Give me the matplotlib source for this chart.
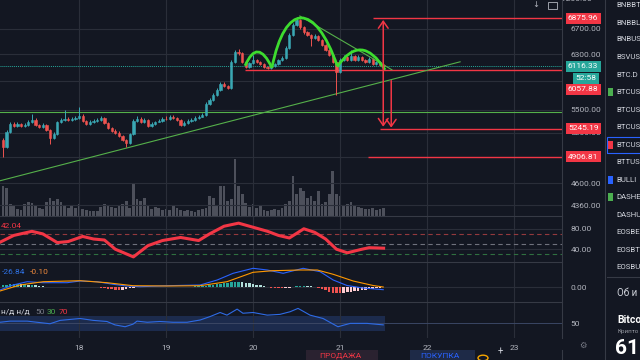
import matplotlib
matplotlib.use("Agg")
import matplotlib.pyplot as plt
from matplotlib.patches import PathPatch, Rectangle
from matplotlib.path import Path
from matplotlib.lines import Line2D
from matplotlib.ticker import NullLocator, NullFormatter
import numpy as np

plt.rcParams['font.family'] = ['Roboto', 'DejaVu Sans']

# ---------------- data ----------------
# hourly candles, x = hours since 18 Mar 00:00
hours = list(range(-21, 85))
first_open = 5117
closes = [5031, 5217, 5319, 5293, 5319, 5293, 5306, 5345, 5371, 5306,
          5280, 5306, 5242, 5142, 5192, 5345, 5371, 5384, 5371, 5384,
          5398, 5424, 5358, 5319, 5345, 5358, 5371, 5398, 5332, 5268,
          5229, 5204, 5167, 5117, 5080, 5192, 5358, 5384, 5345, 5371,
          5293, 5319, 5345, 5358, 5384, 5380, 5411, 5398, 5371, 5306,
          5332, 5358, 5371, 5398, 5411, 5437, 5584, 5638, 5707, 5776,
          5860, 5833, 5805, 6182, 6333, 6318, 6182, 6107, 6167, 6212,
          6182, 6152, 6107, 6093, 6122, 6152, 6212, 6242, 6395, 6600,
          6761, 6844, 6729, 6647, 6600, 6552, 6584, 6520, 6442, 6364,
          6287, 6182, 6034, 6212, 6257, 6212, 6272, 6212, 6257, 6212,
          6182, 6227, 6152, 6182, 6137, 6116.33]
highs = [5140, 5240, 5345, 5340, 5335, 5330, 5325, 5370, 5450, 5390,
         5320, 5325, 5315, 5255, 5210, 5360, 5390, 5503, 5400, 5405,
         5420, 5543, 5440, 5370, 5365, 5380, 5395, 5420, 5410, 5345,
         5280, 5245, 5220, 5180, 5130, 5205, 5380, 5420, 5400, 5395,
         5385, 5335, 5360, 5375, 5400, 5420, 5430, 5430, 5410, 5385,
         5350, 5375, 5390, 5415, 5430, 5460, 5600, 5660, 5730, 5800,
         5885, 5880, 5850, 6210, 6360, 6380, 6335, 6195, 6185, 6287,
         6230, 6200, 6165, 6125, 6140, 6170, 6230, 6265, 6420, 6630,
         6790, 6893, 6860, 6745, 6670, 6615, 6610, 6600, 6535, 6460,
         6380, 6300, 6200, 6240, 6285, 6275, 6364, 6290, 6280, 6275,
         6230, 6250, 6240, 6200, 6195, 6150]
lows = [4910, 5010, 5200, 5280, 5280, 5275, 5280, 5295, 5330, 5290,
        5260, 5265, 5225, 5068, 5120, 5180, 5330, 5355, 5350, 5355,
        5370, 5385, 5340, 5300, 5305, 5330, 5345, 5360, 5315, 5250,
        5210, 5185, 5150, 5095, 5031, 5065, 5180, 5345, 5325, 5330,
        5275, 5280, 5305, 5335, 5345, 5365, 5365, 5380, 5355, 5290,
        5295, 5320, 5345, 5360, 5385, 5400, 5425, 5570, 5620, 5690,
        5760, 5810, 5780, 5790, 6160, 6290, 6160, 6085, 6095, 6150,
        6165, 6135, 6090, 6070, 6080, 6110, 6140, 6200, 6230, 6380,
        6585, 6745, 6700, 6620, 6575, 6426, 6535, 6495, 6420, 6340,
        6265, 6160, 5707, 6015, 6195, 6190, 6195, 6190, 6195, 6190,
        6160, 6165, 6130, 6135, 6115, 6095]
volumes = [30, 28, 12, 10, 7, 6, 12, 14, 13, 10,
           8, 7, 14, 18, 15, 17, 14, 10, 8, 10,
           8, 12, 7, 6, 5, 5, 5, 9, 12, 11,
           9, 8, 10, 12, 15, 8, 33, 17, 15, 18,
           10, 7, 9, 8, 6, 7, 6, 10, 8, 6,
           5, 6, 5, 4, 6, 7, 8, 20, 18, 10,
           30, 30, 15, 17, 57, 30, 22, 13, 9, 12,
           8, 10, 6, 5, 6, 7, 6, 8, 12, 15,
           40, 22, 28, 25, 18, 20, 15, 25, 12, 14,
           22, 45, 22, 20, 11, 12, 14, 10, 9, 8,
           7, 7, 8, 6, 7, 8]

day_hours = [0, 24, 48, 72, 96, 120]
day_labels = ['18', '19', '20', '21', '22', '23']
# 4900 and 5900 sit behind price tags, so they get grid lines only
price_ticks = [4360, 4600, 4900, 5200, 5500, 5900, 6300, 6700]
hidden_ticks = [4900, 5900]

# red oscillator
red_hours = [-22, -18, -13, -10, -6, -3, 1, 4, 7, 10, 15, 19, 23, 28, 33,
             36, 40, 44, 48, 52, 55, 58, 62, 65, 68, 71, 74, 78, 80, 84]
red_vals = [53, 67, 75, 70, 53, 55, 65, 60, 58, 40, 25, 47, 57, 63, 57,
            70, 85, 91, 83, 75, 67, 62, 80, 73, 60, 40, 33, 40, 43, 42.04]

# MACD
macd_hours = [-21.8, -18.2, -14.3, -9.9, -3.3, 0.3, 5.0, 9.4, 13.2, 16.8, 24.3, 33.4,
              38.1, 42.5, 48.0, 51.9, 56.3, 61.8, 66.5, 70.1, 73.9, 78.3, 83.9]
macd_vals = [-30, 20, 53, 43, 43, 60, 53, 27, 10, 3, 13, 20,
             70, 137, 187, 170, 137, 187, 153, 70, 15, -10, -26.84]
signal_hours = [-21.8, -16.3, -9.9, 0.3, 7.7, 14.9, 24.3, 33.4, 40.8, 48.0, 53.5,
                61.0, 65.7, 70.1, 75.6, 81.1, 83.9]
signal_vals = [-40, 20, 53, 63, 43, 13, 10, 13, 53, 147, 163,
               170, 170, 127, 60, 15, -0.10]
hist = [20, 25, 30, 35, 35, 30, 30, 25, 25, 20, 15, 10,
        5, 5, 3, 2, 3, 5, 5, 3, 2,
        3, 2, 0, -2, -3, -3, -5, -8,
        -15, -20, -25, -30, -25, -20, -10,
        -5, -3, 0, 2, 3,
        3, 3, 2, 3, 5, 3, 2, 3, 2, 3, 5, 5, 8, 10, 12,
        15, 20, 25, 30, 35, 40, 45, 50, 55, 55,
        50, 45, 40, 30, 25, 20, 10,
        0, -5, -8, -10, -10, -8, -5, 0,
        10, 15, 15, 12, 10, 5,
        -5, -15, -30, -45, -55, -60, -60, -55, -50, -45, -40, -35, -30, -25,
        -20, -15, -10, -5, -3]

# blue RSI-like line
blue_hours = [-21.8, -19.0, -14.3, -11.6, -8.0, -5.2, 0.3, 3.9, 7.7, 9.9, 12.7, 14.9,
              16.0, 18.8, 22.3, 25.9, 29.8, 33.4, 36.1, 38.9, 40.8, 43.6, 45.2, 48.0,
              51.9, 55.4, 58.2, 60.4, 63.7, 67.3, 70.1, 71.4, 74.8, 79.4, 83.9]
blue_vals = [52, 55, 55, 52, 48, 57, 62, 57, 54, 45, 40, 47,
             55, 52, 54, 52, 52, 58, 67, 78, 71, 87, 76, 78,
             71, 73, 80, 89, 71, 62, 47, 40, 49, 49, 45]

# drawings (hour, price)
left_shoulder = [(45.8, 6122), (49.2, 6567), (53.2, 6093)]
head = [(53.2, 6093), (56.8, 7155), (65.1, 7155), (71.2, 6122)]
right_shoulder = [(71.2, 6107), (77.8, 6655), (84.4, 6063)]
desc_line = [(60.9, 6910), (86.3, 6063)]
asc_line = [(-21.8, 4630), (105.1, 6182)]
support_level = 5470
neckline = 6057.88
target_levels = [(81.1, 6875.96), (83.0, 5245.19), (79.7, 4906.81)]
last_price = 6116.33

watchlist = ['BNBBT', 'BNBBL', 'BNBUS', 'BSVUS', 'BTC.D', 'BTCUS', 'BTCUS', 'BTCUS',
             'BTCUS', 'BTTUS', 'BULLI', 'DASHE', 'DASHU', 'EOSBE', 'EOSBT', 'EOSBU']
watch_y = [5, 23, 39, 57, 75, 92, 110, 127, 145, 162, 180, 197, 215, 232, 250, 267]
flags = {5: '#4caf50', 8: '#f23645', 10: '#2962ff', 11: '#4caf50'}

# ---------------- style ----------------
BG = '#131722'
GRID = '#2a2e39'
SEP = '#363a45'
TXT = '#b2b5be'
UP = '#3aa8b4'
DOWN = '#ef5350'
RED = '#f23645'
GREEN = '#3ddc2f'
THIN_GREEN = '#55b04a'

W, H = 640.0, 360.0
x_left, x_right = -21.8, 133.2


def px_rect(x0, y0, x1, y1):
    return [x0 / W, 1 - y1 / H, (x1 - x0) / W, (y1 - y0) / H]


def style(a, top=True):
    a.set_facecolor(BG)
    a.spines['left'].set_visible(False)
    a.spines['bottom'].set_visible(False)
    a.spines['top'].set_visible(top)
    a.spines['top'].set_color(SEP)
    a.spines['right'].set_color(SEP)
    a.yaxis.tick_right()
    a.tick_params(length=0, labelsize=6, labelcolor=TXT, pad=6)
    a.set_xticks(day_hours)
    a.tick_params(axis='x', labelbottom=False)
    a.grid(axis='x', color=GRID, lw=0.8)
    a.set_xlim(x_left, x_right)


fig = plt.figure(figsize=(6.4, 3.6), dpi=100, facecolor=BG)

# volume underneath the price pane
ax_vol = fig.add_axes(px_rect(0, 0, 562, 216))
ax_vol.set_facecolor(BG)
for s in ax_vol.spines.values():
    s.set_visible(False)
ax_vol.set_xticks([])
ax_vol.set_yticks([])
ax_vol.set_xlim(x_left, x_right)
ax_vol.set_ylim(0, 216)
ax_vol.bar(hours, volumes, width=0.75, color='#4d505b', zorder=2)

ax = fig.add_axes(px_rect(0, 0, 562, 216))
style(ax, top=False)
ax.set_facecolor('none')
ax.set_yscale('log')
ax.set_ylim(4250, 7184)
ax.set_yticks(price_ticks)
ax.set_yticklabels(['' if v in hidden_ticks else f'{v:.2f}' for v in price_ticks])
ax.yaxis.set_minor_locator(NullLocator())
ax.yaxis.set_minor_formatter(NullFormatter())
ax.grid(axis='y', color=GRID, lw=0.8)
ax.text(1.0, 7200, '7200.00', transform=ax.get_yaxis_transform(), color=TXT,
        fontsize=6, va='center', ha='left', clip_on=False)

# candles
opens = [first_open] + closes[:-1]
o = np.array(opens)
c = np.array(closes)
cols = [UP if cc >= oo else DOWN for oo, cc in zip(opens, closes)]
ax.vlines(hours, lows, highs, colors=cols, lw=0.7, zorder=3)
ax.bar(hours, np.abs(c - o), bottom=np.minimum(o, c), width=0.62,
       color=cols, edgecolor=cols, lw=0.4, zorder=4)

# levels and drawings
ax.axhline(last_price, color='#26a69a', lw=0.7, ls=(0, (1, 1)), zorder=2)
ax.axhline(support_level, color=THIN_GREEN, lw=0.8, zorder=2)
ax.hlines(neckline, left_shoulder[0][0], x_right, color=RED, lw=1, zorder=2)
for h0, lvl in target_levels:
    ax.hlines(lvl, h0, x_right, color=RED, lw=1, zorder=2)
ax.plot(*zip(*asc_line), color=THIN_GREEN, lw=0.8, zorder=2)
ax.plot(*zip(*desc_line), color=THIN_GREEN, lw=0.8, zorder=5)

ax.add_patch(PathPatch(Path(left_shoulder, [Path.MOVETO, Path.CURVE3, Path.CURVE3]),
                       fill=False, ec=GREEN, lw=2, zorder=6))
ax.add_patch(PathPatch(Path(head, [Path.MOVETO, Path.CURVE4, Path.CURVE4, Path.CURVE4]),
                       fill=False, ec=GREEN, lw=2, zorder=6))
ax.add_patch(PathPatch(Path(right_shoulder, [Path.MOVETO, Path.CURVE3, Path.CURVE3]),
                       fill=False, ec=GREEN, lw=2, zorder=6))

ax.annotate('', xy=(83.9, 6844), xytext=(83.9, 5280),
            arrowprops=dict(arrowstyle='<->,head_length=0.5,head_width=0.35',
                            color=RED, lw=1.1, shrinkA=0, shrinkB=0), zorder=7)
ax.annotate('', xy=(86.1, 5268), xytext=(86.1, 5905),
            arrowprops=dict(arrowstyle='->,head_length=0.5,head_width=0.35',
                            color=RED, lw=1.1, shrinkA=0, shrinkB=0), zorder=7)


def tag(price, text, fc, dx=6, dy=0):
    ax.annotate(text, xy=(1, price), xycoords=('axes fraction', 'data'),
                xytext=(dx, dy), textcoords='offset pixels', color='white',
                fontsize=6, va='center', ha='left', zorder=20,
                annotation_clip=False,
                bbox=dict(boxstyle='square,pad=0.3', fc=fc, ec='none'))


tag(6875.96, '6875.96', RED)
tag(last_price, '6116.33', '#26a69a')
tag(last_price, '52:58', '#26a69a', dx=13, dy=-12)
tag(neckline, '6057.88', RED, dy=-19)
tag(5245.19, '5245.19', RED, dy=1)
tag(4906.81, '4906.81', RED)

# oscillator pane
ax_st = fig.add_axes(px_rect(0, 216, 562, 262))
style(ax_st)
ax_st.set_ylim(15, 105)
ax_st.set_yticks([80, 40])
ax_st.set_yticklabels(['80.00', '40.00'])
ax_st.grid(axis='y', color=GRID, lw=0.8)
ax_st.axhline(70, color='#94393d', lw=0.8, ls=(0, (4, 3)))
ax_st.axhline(50, color='#6f727d', lw=0.8, ls=(0, (4, 3)))
ax_st.axhline(30, color='#2f7040', lw=0.8, ls=(0, (4, 3)))
ax_st.plot(red_hours, red_vals, color=RED, lw=2.2, solid_joinstyle='round')
ax_st.text(1 / 562, 0.78, '42.04', transform=ax_st.transAxes, color=RED,
           fontsize=6, va='center')

# MACD pane
ax_m = fig.add_axes(px_rect(0, 262, 562, 302))
style(ax_m)
ax_m.set_ylim(-150, 250)
ax_m.set_yticks([0])
ax_m.set_yticklabels(['0.00'])
ax_m.grid(axis='y', color=GRID, lw=0.8)
hcols = []
prev = 0
for v in hist:
    if v >= 0:
        hcols.append('#26a69a' if v >= prev else '#b2dfdb')
    else:
        hcols.append('#ef5350' if v <= prev else '#ffcdd2')
    prev = v
ax_m.bar(hours, hist, width=0.7, color=hcols, zorder=3)
ax_m.plot(macd_hours, macd_vals, color='#2962ff', lw=0.8, zorder=4)
ax_m.plot(signal_hours, signal_vals, color='#ff9800', lw=0.8, zorder=4)
ax_m.text(2 / 562, 0.75, '-26.84', transform=ax_m.transAxes, color='#2f73e8',
          fontsize=6, va='center')
ax_m.text(30 / 562, 0.75, '-0.10', transform=ax_m.transAxes, color='#f08a3c',
          fontsize=6, va='center')

# blue pane
ax_r = fig.add_axes(px_rect(0, 302, 562, 338))
style(ax_r)
ax_r.set_ylim(10, 106)
ax_r.set_yticks([50])
ax_r.set_yticklabels(['50'])
ax_r.fill_between([hours[0] - 1.5, hours[-1] + 0.5], 30, 70, color='#1c2b4d', lw=0)
ax_r.axhline(50, color='#3a4664', lw=0.7)
ax_r.plot(blue_hours, blue_vals, color='#2e6be6', lw=0.8)
ax_r.tick_params(axis='x', labelbottom=True, pad=5)
ax_r.set_xticklabels(day_labels)
for xp, txt, col in [(1, 'н/д н/д', '#d1d4dc'), (35, '50', '#787b86'),
                     (47, '30', '#4caf50'), (59, '70', RED)]:
    ax_r.text(xp / 562, 0.72, txt, transform=ax_r.transAxes, color=col,
              fontsize=6, va='center')

# ---------------- interface parts ----------------
fig.add_artist(Line2D([562 / W, 562 / W], [0, 1 - 350 / H], color=SEP, lw=0.8))
fig.add_artist(Line2D([605 / W, 605 / W], [0, 1], color=SEP, lw=0.8))
fig.add_artist(Line2D([607 / W, 1], [1 - 277 / H] * 2, color=SEP, lw=0.8))
fig.text(536 / W, 1 - 5 / H, '↓', color=TXT, fontsize=6, ha='center', va='center')
fig.add_artist(Rectangle((548 / W, 1 - 9 / H), 9 / W, 7 / H, fill=False, ec=TXT, lw=0.6))
fig.text(583 / W, 1 - 346 / H, '⚙', color='#787b86', fontsize=6, ha='center', va='center')

for k, (name, yy) in enumerate(zip(watchlist, watch_y)):
    fig.text(616 / W, 1 - yy / H, name, color='#d1d4dc', fontsize=5.6, va='center')
    if k in flags:
        fig.add_artist(Rectangle((608 / W, 1 - (yy + 4) / H), 5 / W, 8 / H,
                                 color=flags[k], lw=0))
fig.add_artist(Rectangle((607 / W, 1 - 153 / H), 40 / W, 16 / H, fill=False,
                         ec='#2962ff', lw=0.8))
fig.text(617 / W, 1 - 293 / H, 'Об и', color='#d1d4dc', fontsize=7, va='center')
fig.text(617 / W, 1 - 320 / H, 'Bitco', color='white', fontsize=7.5,
         fontweight='bold', va='center')
fig.text(617 / W, 1 - 331 / H, 'Крипто', color='#9598a1', fontsize=4.5, va='center')
fig.text(615 / W, 1 - 348 / H, '61', color='white', fontsize=15,
         fontweight='bold', va='center')

# order panel at the bottom
fig.add_artist(Rectangle((306 / W, 0), 72 / W, 10 / H, color='#2a2230', lw=0))
fig.add_artist(Rectangle((410 / W, 0), 65 / W, 10 / H, color='#1e2a47', lw=0))
fig.text(340 / W, 1 - 356 / H, 'ПРОДАЖА', color=RED, fontsize=6, ha='center', va='center')
fig.text(440 / W, 1 - 356 / H, 'ПОКУПКА', color='#2962ff', fontsize=6, ha='center', va='center')
fig.text(500 / W, 1 - 352 / H, '+', color='#d1d4dc', fontsize=7, ha='center', va='center')
fig.add_artist(plt.Circle((483 / W, 1 - 358 / H), 5 / W, fill=False, ec='#f7a600', lw=1))

fig.savefig('out.png', dpi=100, facecolor=BG)
